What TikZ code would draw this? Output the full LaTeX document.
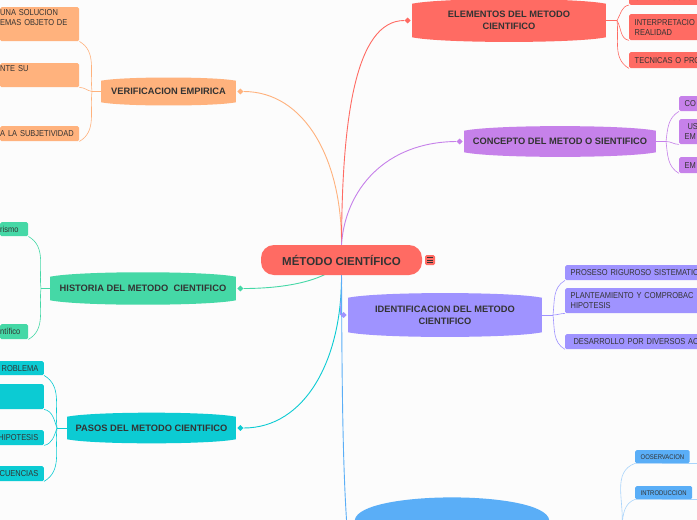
\documentclass[tikz,border=0pt]{standalone}
\usepackage{fontspec}
\setmainfont{Liberation Sans}
\newfontfamily\leaffont[FakeStretch=0.87]{Liberation Sans}
\usetikzlibrary{positioning,shapes.geometric}
\definecolor{inkdark}{HTML}{333333}
\definecolor{rootred}{HTML}{FF6B63}
\definecolor{verifcol}{HTML}{FFB27D}
\definecolor{histcol}{HTML}{45D8A6}
\definecolor{pasoscol}{HTML}{0CCBD3}
\definecolor{conceptcol}{HTML}{C681EA}
\definecolor{identcol}{HTML}{9F93FF}
\definecolor{bluecol}{HTML}{5AAEF7}
\definecolor{lightblue}{HTML}{A9D4FB}
\pgfdeclarelayer{back}
\pgfsetlayers{back,main}
\tikzset{
  root/.style={rectangle,rounded corners=13pt,fill=rootred,text=inkdark,font=\bfseries\fontsize{11.5}{13}\selectfont,minimum width=161pt,minimum height=30pt},
  topic/.style 2 args={rectangle,fill=#1,text=inkdark,align=center,inner sep=0pt,font=\bfseries\fontsize{9.3}{12}\selectfont,
    append after command={\pgfextra{
      \fill[#1] (\tikzlastnode.north west) to[out=#2,in=180-#2,looseness=0.4] (\tikzlastnode.north east) -- cycle;
      \fill[#1] (\tikzlastnode.south west) to[out=-#2,in=180+#2,looseness=0.4] (\tikzlastnode.south east) -- cycle;
    }}},
  sub/.style={rectangle,rounded corners=1.5pt,fill=#1,text=inkdark,align=left,inner ysep=0pt,inner xsep=5.5pt,font=\leaffont\fontsize{8.6}{10.4}\selectfont},
  tiny/.style={font=\leaffont\fontsize{6.8}{8}\selectfont,minimum height=13pt,anchor=north west},
  dot/.style={diamond,fill=#1,inner sep=0pt,minimum size=6pt},
  link/.style={#1,line width=0.9pt},
  twig/.style={#1,line width=0.6pt}
}
\begin{document}
\begin{tikzpicture}[x=1pt,y=-1pt]
\useasboundingbox (0,0) rectangle (697,520);
\clip (0,0) rectangle (697,520);
% centre
\node[root] (metodo) at (341.5,260) {MÉTODO CIENTÍFICO};
\node[rectangle,rounded corners=1.5pt,fill=rootred,minimum size=10pt,inner sep=0pt] (menu) at (430,260) {};
\foreach \dy in {-2.5,0,2.5}
  \draw[inkdark,line width=0.5pt] ([shift={(-3,\dy)}]menu.center) -- ([shift={(3,\dy)}]menu.center);
% main branches
\node[topic={verifcol}{12},minimum width=135pt,minimum height=21pt] (verif) at (168.5,91.5) {VERIFICACION EMPIRICA};
\node[topic={histcol}{12},minimum width=186pt,minimum height=23pt] (hist) at (143,288.5) {HISTORIA DEL METODO\ \ CIENTIFICO};
\node[topic={pasoscol}{12},minimum width=169pt,minimum height=22pt] (pasos) at (151.5,428) {PASOS DEL METODO CIENTIFICO};
\node[topic={rootred}{12},minimum width=194pt,minimum height=33pt] (elem) at (509,20.5) {ELEMENTOS DEL METODO\\CIENTIFICO};
\node[topic={conceptcol}{12},minimum width=192pt,minimum height=21pt] (concept) at (560,141.5) {CONCEPTO DEL METOD O SIENTIFICO};
\node[topic={identcol}{12},minimum width=194pt,minimum height=34pt] (ident) at (445,315) {IDENTIFICACION DEL METODO\\CIENTIFICO};
\node[topic={bluecol}{80},minimum width=194pt,minimum height=30pt] (obser) at (452,535) {};
\node[dot=verifcol,right=1pt of verif] (dverif) {};
\node[dot=histcol,right=1pt of hist] (dhist) {};
\node[dot=pasoscol,right=1pt of pasos] (dpasos) {};
\node[dot=rootred,left=1pt of elem] (delem) {};
\node[dot=conceptcol,left=1pt of concept] (dconcept) {};
\node[dot=identcol,left=1pt of ident] (dident) {};
% left leaves
\node[sub=verifcol,anchor=north west,minimum height=34pt,text width=79pt,inner xsep=0pt] (v1) at (0,7) {UNA SOLUCION\\EMAS OBJETO DE\\\strut};
\node[sub=verifcol,anchor=north west,minimum height=24pt,text width=79pt,inner xsep=0pt] (v2) at (0,63) {NTE SU\\\strut};
\node[sub=verifcol,anchor=north west,minimum height=15pt,text width=79pt,inner xsep=0pt] (v3) at (0,126) {A LA SUBJETIVIDAD};
\node[sub=histcol,anchor=north west,minimum height=14pt,text width=28pt,inner xsep=0pt] (h1) at (0,222) {rismo};
\node[sub=histcol,anchor=north west,minimum height=15pt,text width=28pt,inner xsep=0pt] (h2) at (0,324) {ntífico};
\node[sub=pasoscol,anchor=north east,minimum height=14pt,text width=60pt,align=right] (p1) at (44,361) {ROBLEMA};
\node[sub=pasoscol,anchor=north east,minimum height=25pt,text width=60pt] (p2) at (44,384) {};
\node[sub=pasoscol,anchor=north east,minimum height=15pt,text width=60pt,align=right] (p3) at (44,430) {HIPOTESIS};
\node[sub=pasoscol,anchor=north east,minimum height=15pt,text width=60pt,align=right] (p4) at (44,466) {CUENCIAS};
% right leaves
\node[sub=rootred,anchor=south west,minimum height=15pt,text width=120pt] (e1) at (629,5) {CIENTIFICOS};
\node[sub=rootred,anchor=north west,minimum height=26pt,text width=120pt] (e2) at (629,14) {INTERPRETACIO\\REALIDAD};
\node[sub=rootred,anchor=north west,minimum height=16pt,text width=120pt] (e3) at (629,52) {TECNICAS O PRO};
\node[sub=conceptcol,anchor=north west,minimum height=15pt,text width=60pt] (c1) at (679,96) {CO};
\node[sub=conceptcol,anchor=north west,minimum height=25pt,text width=60pt] (c2) at (679,119) {\ US\\EM};
\node[sub=conceptcol,anchor=north west,minimum height=16pt,text width=60pt] (c3) at (679,157) {EM};
\node[sub=identcol,anchor=north west,minimum height=15pt,text width=220pt] (i1) at (565,265) {PROSESO RIGUROSO SISTEMATIC};
\node[sub=identcol,anchor=north west,minimum height=25pt,text width=220pt] (i2) at (565,288) {PLANTEAMIENTO Y COMPROBAC\\HIPOTESIS};
\node[sub=identcol,anchor=north west,minimum height=15pt,text width=220pt] (i3) at (565,334) {\ DESARROLLO POR DIVERSOS AC};
\node[sub=bluecol,tiny] (b1) at (635,450) {OOSERVACION};
\node[sub=bluecol,tiny] (b2) at (635,486) {INTRODUCCION};
% fork points and free ends
\coordinate (fverif) at (92,91.5);
\coordinate (fhist) at (41,288.5);
\coordinate (fpasos) at (57,428);
\coordinate (felem) at (617,20.5);
\coordinate (fconcept) at (666,141.5);
\coordinate (fident) at (553,315);
\coordinate (fobser) at (622,525);
\coordinate (eb1) at (697,463.5);
\coordinate (eb2) at (697,499.5);
\begin{pgfonlayer}{back}
\fill[white!99!black] (0,0) rectangle (697,520);
\draw[link=verifcol] (metodo.north) .. controls (342,160) and (305,91.5) .. (dverif.east);
\draw[link=rootred] (metodo.north) .. controls (342,120) and (355,20.5) .. (delem.west);
\draw[link=conceptcol] (metodo.north) .. controls (345,190) and (385,142) .. (dconcept.west);
\draw[link=histcol] (metodo.center) .. controls (335,275) and (300,288.5) .. (dhist.east);
\draw[link=pasoscol] (metodo.south) .. controls (342,360) and (305,428) .. (dpasos.east);
\draw[link=identcol] (metodo.south) .. controls (342,290) and (340,315) .. (dident.west);
\draw[link=bluecol] (metodo.south) .. controls (342,400) and (343,480) .. (348,540);
% verificacion twigs
\draw[twig=verifcol] (verif.west) -- (fverif);
\draw[twig=verifcol] (fverif) to[out=97,in=-30] (v1.south east);
\draw[twig=verifcol] (fverif) to[out=170,in=0] (v2.south east);
\draw[twig=verifcol] (fverif) to[out=-97,in=30] (v3.south east);
\draw[twig=histcol] (hist.west) -- (fhist);
\draw[twig=histcol] (fhist) to[out=97,in=-30] (h1.south east);
\draw[twig=histcol] (fhist) to[out=-97,in=30] (h2.south east);
\draw[twig=pasoscol] (pasos.west) -- (fpasos);
\draw[twig=pasoscol] (fpasos) to[out=97,in=-30] (p1.south east);
\draw[twig=pasoscol] (fpasos) to[out=110,in=-10] (p2.south east);
\draw[twig=pasoscol] (fpasos) to[out=-110,in=10] (p3.south east);
\draw[twig=pasoscol] (fpasos) to[out=-97,in=30] (p4.south east);
% right twigs
\draw[twig=rootred] (elem.east) -- (felem);
\draw[twig=rootred] (felem) to[out=60,in=190] (e1.south west);
\draw[twig=rootred] (felem) to[out=-60,in=170] (e2.south west);
\draw[twig=rootred] (felem) to[out=-83,in=150] (e3.south west);
\draw[twig=conceptcol] (concept.east) -- (fconcept);
\draw[twig=conceptcol] (fconcept) to[out=83,in=210] (c1.south west);
\draw[twig=conceptcol] (fconcept) to[out=0,in=180] (c2.south west);
\draw[twig=conceptcol] (fconcept) to[out=-83,in=150] (c3.south west);
\draw[twig=identcol] (ident.east) -- (fident);
\draw[twig=identcol] (fident) to[out=83,in=210] (i1.south west);
\draw[twig=identcol] (fident) to[out=0,in=180] (i2.south west);
\draw[twig=identcol] (fident) to[out=-83,in=150] (i3.south west);
\draw[twig=lightblue] (fobser) to[out=85,in=200] (b1.south west) -- (eb1);
\draw[twig=lightblue] (fobser) to[out=85,in=200] (b2.south west) -- (eb2);
\end{pgfonlayer}
\end{tikzpicture}
\end{document}
